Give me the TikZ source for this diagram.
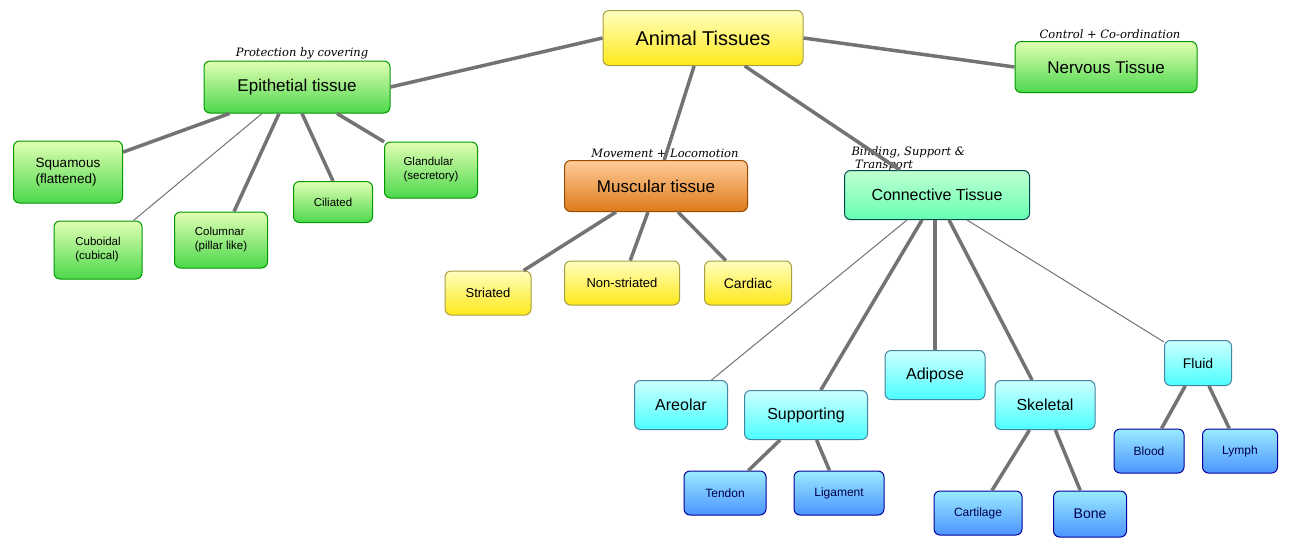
\documentclass[tikz,border=0pt]{standalone}
\usepackage{fontspec}
\setmainfont{Liberation Sans}
\newfontfamily\hand{DejaVu Serif}
\begin{document}
\begin{tikzpicture}[x=1pt,y=-1pt,
 box/.style={draw=#1!60!black,rounded corners=6pt,line width=1pt,align=left,inner sep=2pt},
 yel/.style={box=yellow,top color=yellow!25,bottom color=yellow!80!orange!90,font=\fontsize{13}{15}\selectfont},
 grn/.style={box=green,top color=green!40!yellow!30,bottom color=green!60!black!55!green!70,font=\fontsize{11.5}{14}\selectfont},
 org/.style={box=orange,top color=orange!40,bottom color=orange!85!black!90,font=\fontsize{14}{16}\selectfont},
 teal/.style={box=teal,top color=cyan!30!green!25,bottom color=cyan!50!green!60,font=\fontsize{14}{16}\selectfont},
 cya/.style={box=cyan,top color=cyan!20,bottom color=cyan!70,font=\fontsize{14}{16}\selectfont},
 blu/.style={box=blue,top color=blue!20!cyan!40,bottom color=blue!60!cyan!70,font=\color{blue!30!black}\fontsize{12}{14}\selectfont},
 e/.style={draw=black!55,line width=3.5pt},
 et/.style={draw=black!55,line width=1pt},
 lab/.style={font=\hand\itshape\fontsize{11.5}{13}\selectfont}]
\useasboundingbox[fill=white] (0,0) rectangle (1289,547);
\node[yel,minimum width=200,minimum height=55,font=\fontsize{20}{24}\selectfont] (at) at (703,38) {Animal Tissues};
\node[grn,minimum width=186,minimum height=52,font=\fontsize{17}{20}\selectfont] (ep) at (297,87) {Epithetial tissue};
\node[grn,minimum width=182,minimum height=51,font=\fontsize{17}{20}\selectfont] (nv) at (1106,67) {Nervous Tissue};
\node[grn,minimum width=109,minimum height=62,font=\fontsize{13.5}{16}\selectfont] (sq) at (68,172) {Squamous\\(flattened)};
\node[grn,minimum width=88,minimum height=58] (cu) at (98,250) {Cuboidal\\(cubical)};
\node[grn,minimum width=93,minimum height=56] (co) at (221,240) {Columnar\\(pillar like)};
\node[grn,minimum width=79,minimum height=41] (ci) at (333,202) {Ciliated};
\node[grn,minimum width=93,minimum height=56] (gl) at (431,170) {Glandular\\(secretory)};
\node[org,minimum width=183,minimum height=51,font=\fontsize{17}{20}\selectfont] (mu) at (656,186) {Muscular tissue};
\node[yel,minimum width=86,minimum height=44] (st) at (488,293) {Striated};
\node[yel,minimum width=115,minimum height=44] (ns) at (622,283) {Non-striated};
\node[yel,minimum width=87,minimum height=44,font=\fontsize{14}{16}\selectfont] (cd) at (748,283) {Cardiac};
\node[teal,minimum width=185,minimum height=49,font=\fontsize{16}{19}\selectfont] (ct) at (937,195) {Connective Tissue};
\node[cya,minimum width=93,minimum height=49,font=\fontsize{16}{19}\selectfont] (ar) at (681,405) {Areolar};
\node[cya,minimum width=123,minimum height=49,font=\fontsize{16}{19}\selectfont] (su) at (806,415) {Supporting};
\node[cya,minimum width=100,minimum height=49,font=\fontsize{16}{19}\selectfont] (ad) at (935,375) {Adipose};
\node[cya,minimum width=100,minimum height=49,font=\fontsize{16}{19}\selectfont] (sk) at (1045,405) {Skeletal};
\node[cya,minimum width=67,minimum height=45] (fl) at (1198,363) {Fluid};
\node[blu,minimum width=82,minimum height=44] (te) at (725,493) {Tendon};
\node[blu,minimum width=90,minimum height=44] (li) at (839,493) {Ligament};
\node[blu,minimum width=88,minimum height=44] (ca) at (978,513) {Cartilage};
\node[blu,minimum width=73,minimum height=46,font=\color{blue!30!black}\fontsize{14}{16}\selectfont] (bo) at (1090,514) {Bone};
\node[blu,minimum width=70,minimum height=44] (bl) at (1149,451) {Blood};
\node[blu,minimum width=75,minimum height=44] (ly) at (1240,451) {Lymph};
\node[lab] (l1) at (302,53) {Protection by covering};
\node[lab] (l2) at (1110,34) {Control + Co-ordination};
\node[lab] (l3) at (665,153) {Movement + Locomotion};
\node[lab,align=left,anchor=north west] (l4) at (848,143) {Binding, Support \&\\ \ Transport};
\draw[e] (ep.east) -- (at.west);
\draw[e] (at.east) -- (nv.west);
\draw[e] (at) -- (mu);
\draw[e] (at) -- (ct);
\draw[e] (ep.south west) ++(26,0) coordinate (a1) (a1) -- (sq);
\draw[et] (ep.south) ++(-35,0) coordinate (a2) (a2) -- (cu);
\draw[e] (ep.south) ++(-18,0) coordinate (a3) (a3) -- (co);
\draw[e] (ep.south) ++(5,0) coordinate (a4) (a4) -- (ci.north);
\draw[e] (ep.south) ++(40,0) coordinate (a5) (a5) -- (gl);
\draw[e] (mu.south) ++(-40,0) coordinate (m1) (m1) -- (st);
\draw[e] (mu.south) ++(-8,0) coordinate (m2) (m2) -- (ns);
\draw[e] (mu.south) ++(22,0) coordinate (m3) (m3) -- (cd);
\draw[et] (ct.south) ++(-30,0) coordinate (c1) (c1) -- (ar);
\draw[e] (ct.south) ++(-15,0) coordinate (c2) (c2) -- (su);
\draw[e] (ct.south) ++(-2,0) coordinate (c3) (c3) -- (ad);
\draw[e] (ct.south) ++(12,0) coordinate (c4) (c4) -- (sk);
\draw[et] (ct.south) ++(30,0) coordinate (c5) (c5) -- (fl);
\draw[e] (su) -- (te); \draw[e] (su) -- (li);
\draw[e] (sk) -- (ca); \draw[e] (sk) -- (bo);
\draw[e] (fl) -- (bl); \draw[e] (fl) -- (ly);
\end{tikzpicture}
\end{document}
